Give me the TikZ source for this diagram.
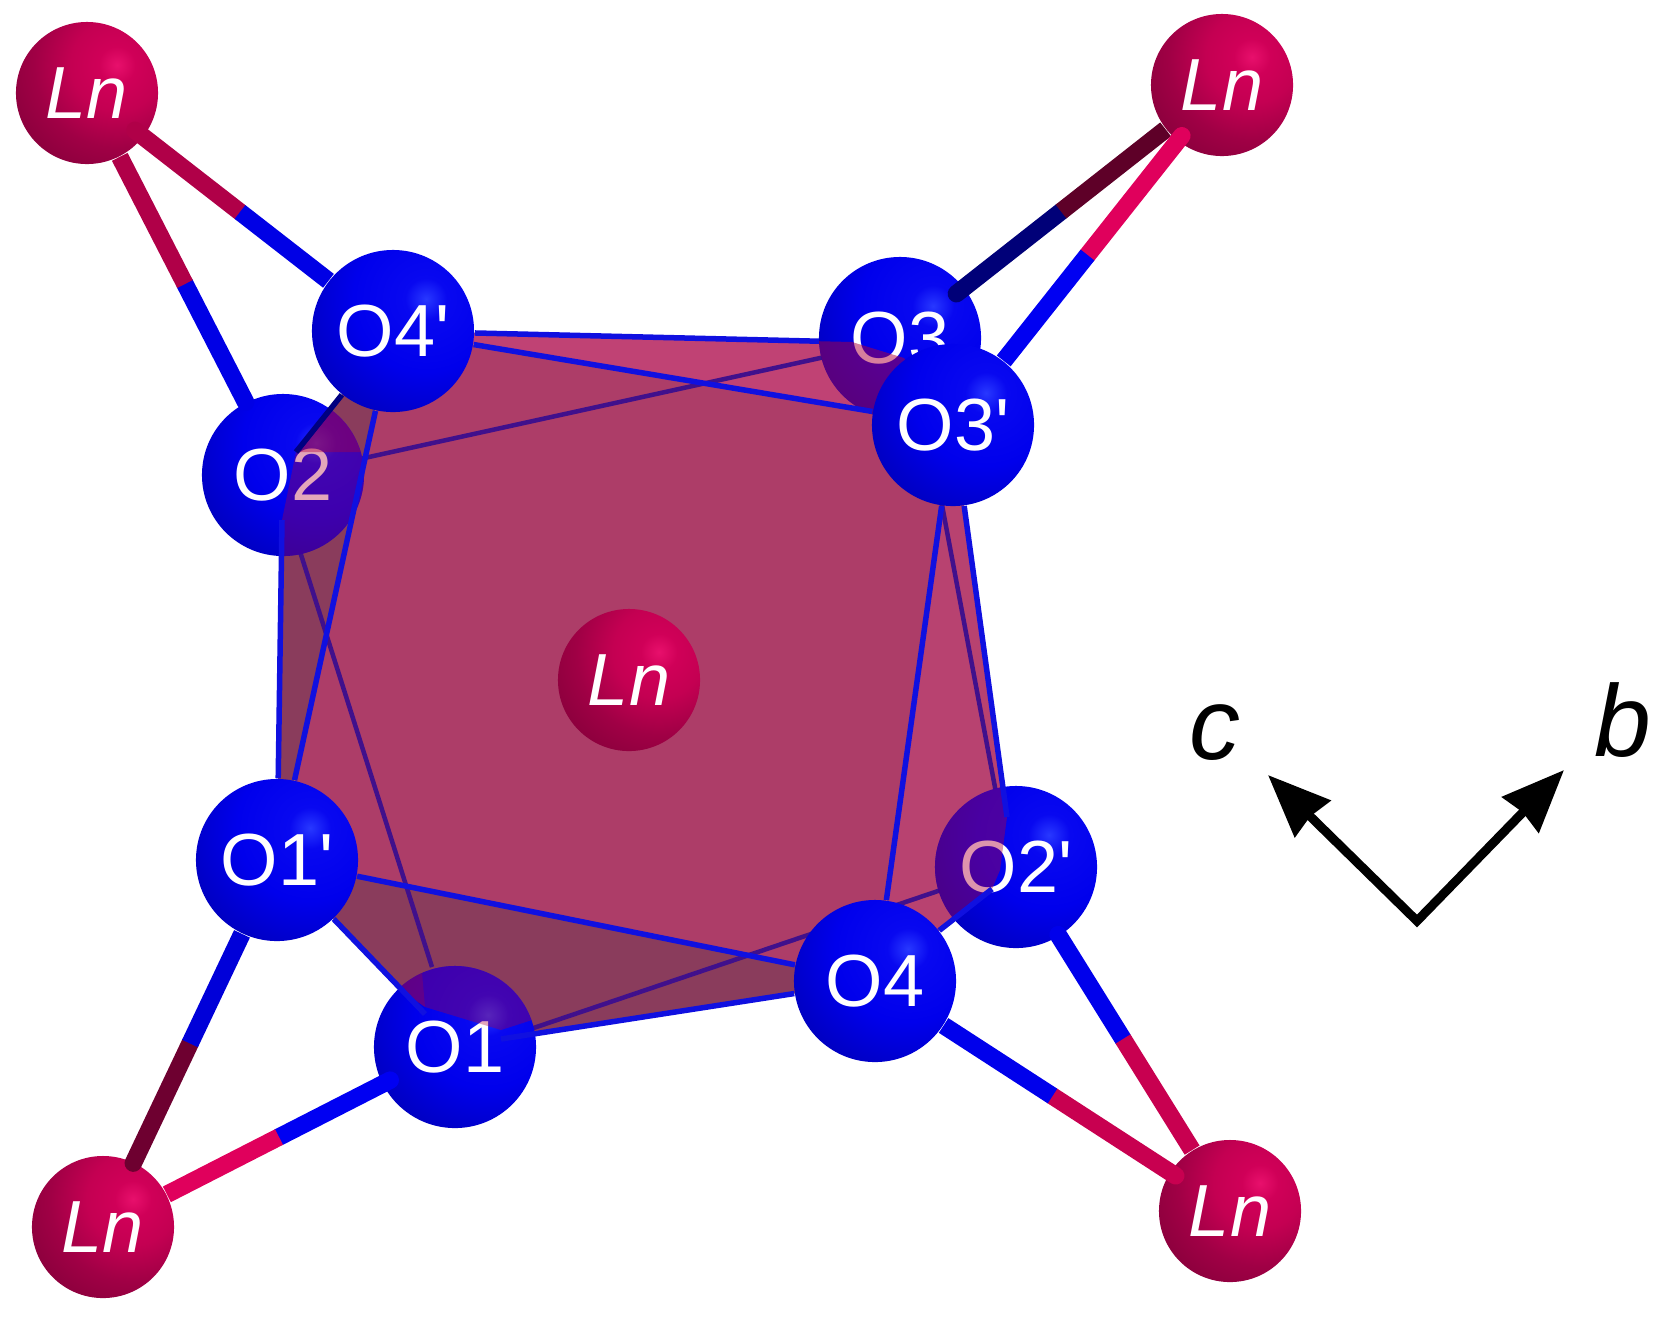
\documentclass[tikz,border=0pt]{standalone}
\usepackage{fontspec}
\setmainfont{Liberation Sans}[Ligatures=TeXOff]
\usetikzlibrary{calc,arrows.meta}
\pgfdeclarelayer{polyback}
\pgfdeclarelayer{backbonds}
\pgfdeclarelayer{lnballs}
\pgfdeclarelayer{frontbonds}
\pgfsetlayers{polyback,backbonds,lnballs,frontbonds,main}
\definecolor{lnA}{HTML}{E8106C}\definecolor{lnB}{HTML}{D00058}\definecolor{lnC}{HTML}{C40052}
\definecolor{lnD}{HTML}{A00045}\definecolor{lnE}{HTML}{6C0030}\definecolor{lnF}{HTML}{400018}
\definecolor{oxA}{HTML}{2838FF}\definecolor{oxB}{HTML}{0808F0}\definecolor{oxC}{HTML}{0000EC}
\definecolor{oxD}{HTML}{0000C4}\definecolor{oxE}{HTML}{00007C}\definecolor{oxF}{HTML}{00005C}
\definecolor{facemain}{HTML}{AD3D68}\definecolor{facetop}{HTML}{C04274}
\definecolor{faceright}{HTML}{B84270}\definecolor{facelow}{HTML}{8A3C5C}
\definecolor{edgeblue}{HTML}{1010E0}\definecolor{edgeback}{HTML}{40108C}
\definecolor{tintred}{HTML}{B0003C}
\pgfdeclareradialshading{lnshade}{\pgfpointorigin}{color(0bp)=(lnA); color(4bp)=(lnB); color(10bp)=(lnC); color(18bp)=(lnD); color(36bp)=(lnE); color(50bp)=(lnF)}
\pgfdeclareradialshading{oxshade}{\pgfpointorigin}{color(0bp)=(oxA); color(4bp)=(oxB); color(14bp)=(oxC); color(24bp)=(oxD); color(42bp)=(oxE); color(50bp)=(oxF)}
\tikzset{
  lnatom/.style={circle,inner sep=0pt,minimum size=1.42cm,text=white,font=\fontsize{21}{21}\selectfont\itshape,
    path picture={\shade[shading=lnshade] ([xshift=.3cm,yshift=.28cm]path picture bounding box.center) circle (1.15cm);}},
  oxatom/.style={circle,inner sep=0pt,minimum size=1.62cm,text=white,font=\fontsize{21}{21}\selectfont,
    path picture={\shade[shading=oxshade] ([xshift=.33cm,yshift=.32cm]path picture bounding box.center) circle (1.3cm);}},
  bond/.style={line width=.175cm},
  ballend/.style={line cap=round},
  faceedge/.style={edgeblue,line width=.055cm},
  backedge/.style={edgeback,line width=.045cm},
  tint/.style={tintred,opacity=#1},
  axislabel/.style={font=\fontsize{29}{29}\selectfont\itshape,inner sep=0pt},
}
\begin{document}
\begin{tikzpicture}[x=.01cm,y=-.01cm,>={Stealth[length=.62cm,width=.5cm,inset=.03cm]}]
  \useasboundingbox (0,0) rectangle (1658,1317);
  \begin{pgfonlayer}{lnballs}
    \node[lnatom] (ln1) at (87,93) {Ln};
    \node[lnatom] (ln2) at (1222,85) {Ln};
    \node[lnatom] (ln3) at (103,1227) {Ln};
    \node[lnatom] (ln4) at (1230,1211) {Ln};
  \end{pgfonlayer}
  \node[oxatom] (o4p) at (393,331) {O4'};
  \node[oxatom] (o3p) at (953,425) {O3'};
  \node[oxatom] (o1p) at (277,860) {O1'};
  \node[oxatom] (o4) at (875,981) {O4};
  % where the polyhedron meets the atoms behind it
  \coordinate (v3a) at (852,342);
  \coordinate (v3b) at (904,358);
  \coordinate (v2pa) at (1007,817);
  \coordinate (v2pb) at (1000,870);
  \coordinate (v2pc) at (992,889);
  \coordinate (v1a) at (501,1039);
  \coordinate (v1b) at (425,1014);
  \coordinate (v2a) at (282,520);
  \coordinate (v2b) at (296,452);
  \def\polyoutline{(o4p.center) -- (v3a) -- (v3b) -- (o3p.center) -- (v2pa) -- (v2pb) -- (v2pc) -- (o4.center) -- (v1a) -- (v1b) -- (o1p.center) -- (v2a) -- (v2b) -- cycle}
  \begin{pgfonlayer}{polyback}
    \fill[facetop] (o4p.center) -- (v3a) -- (v3b) -- (o3p.center) -- cycle;
    \fill[faceright] (o3p.center) -- (v2pa) -- (v2pb) -- (v2pc) -- (o4.center) -- cycle;
    \fill[facelow] (o4.center) -- (v1a) -- (v1b) -- (o1p.center) -- cycle;
    \fill[facelow] (o1p.center) -- (v2a) -- (v2b) -- (o4p.center) -- cycle;
    \fill[facemain] (o4p.center) -- (o3p.center) -- (o4.center) -- (o1p.center) -- cycle;
    \draw[backedge] (296,473) -- (852,351);
    \draw[backedge] (290,520) -- (432,967);
    \draw[backedge] (v1a) -- (v2pb);
    \draw[backedge] (912,345) -- (1003,830);
    \draw[faceedge] (o4p) -- (v3a);
    \node[oxatom] (o3) at (900,338) {O3};
    \node[oxatom] (o2) at (283,475) {O2};
    \node[oxatom] (o1) at (455,1047) {O1};
    \node[oxatom] (o2p) at (1016,867) {O2'};
    \begin{scope}
      \clip \polyoutline;
      \fill[tint=.5] (o3) circle[radius=81];
      \fill[tint=.35] (o2) circle[radius=81];
      \fill[tint=.42] (o2p) circle[radius=81];
    \end{scope}
    \begin{scope}
      \clip (398,988) -- (425,1007) -- (501,1030) -- (532,1020) -- (560,950) -- (420,940) -- cycle;
      \fill[tint=.35] (o1) circle[radius=81];
    \end{scope}
    \begin{scope}
      \clip (v2b) -- (344,398) -- (400,420) -- (374,452) -- cycle;
      \fill[tint=.4] (o2) circle[radius=81];
    \end{scope}
    \begin{scope}
      \clip (425,1007) -- (398,988) -- (390,950) -- (420,950) -- cycle;
      \fill[tint=.3] (o1) circle[radius=81];
    \end{scope}
  \end{pgfonlayer}
  \begin{pgfonlayer}{backbonds}
    \draw[bond,ballend,blue!90!black] (o2) -- ($(ln1)!.5!(o2)$);
    \draw[bond,color={rgb,255:red,176;green,0;blue,72}] (ln1) -- ($(ln1)!.5!(o2)$);
    \draw[bond,ballend,color={rgb,255:red,0;green,0;blue,120},shorten <=-.1cm] (o3) -- ($(ln2)!.5!(o3)$);
    \draw[bond,color={rgb,255:red,94;green,0;blue,40}] (ln2) -- ($(ln2)!.5!(o3)$);
    \draw[bond,ballend,blue!95!black,shorten <=-.09cm] (o1) -- ($(ln3)!.5!(o1)$);
    \draw[bond,color={rgb,255:red,224;green,0;blue,92}] (ln3) -- ($(ln3)!.5!(o1)$);
    \draw[bond,ballend,blue!92!black,shorten <=-.02cm] (o2p) -- ($(ln4)!.5!(o2p)$);
    \draw[bond,color={rgb,255:red,200;green,0;blue,80}] (ln4) -- ($(ln4)!.5!(o2p)$);
  \end{pgfonlayer}
  \begin{pgfonlayer}{frontbonds}
    \draw[bond,ballend,color={rgb,255:red,176;green,0;blue,72},shorten <=-.11cm] (ln1) -- ($(ln1)!.5!(o4p)$);
    \draw[bond,blue!90!black] (o4p) -- ($(ln1)!.5!(o4p)$);
    \draw[bond,ballend,color={rgb,255:red,224;green,0;blue,92},shorten <=-.07cm] (ln2) -- ($(ln2)!.5!(o3p)$);
    \draw[bond,blue!95!black] (o3p) -- ($(ln2)!.5!(o3p)$);
    \draw[bond,ballend,color={rgb,255:red,110;green,0;blue,48},shorten <=-.01cm] (ln3) -- ($(ln3)!.5!(o1p)$);
    \draw[bond,blue!85!black] (o1p) -- ($(ln3)!.5!(o1p)$);
    \draw[bond,ballend,color={rgb,255:red,200;green,0;blue,80},shorten <=-.07cm] (ln4) -- ($(ln4)!.5!(o4)$);
    \draw[bond,blue!92!black] (o4) -- ($(ln4)!.5!(o4)$);
    % edges of the polyhedron
    \draw[faceedge] (o4p) -- (o3p);
    \draw[faceedge] (o3p) -- (o4);
    \draw[faceedge] (o4) -- (o1p);
    \draw[faceedge] (o1p) -- (o4p);
    \draw[faceedge] (o3p) -- (v2pa);
    \draw[faceedge] (o4) -- (v2pc);
    \draw[faceedge] (o4) -- (v1a);
    \draw[faceedge] (o1p) -- (v1b);
    \draw[faceedge] (o1p) -- (v2a);
    \draw[faceedge,blue!50!black] (o4p) -- (v2b);
  \end{pgfonlayer}
  \node[lnatom] (ln0) at (629,680) {Ln};
  % axes
  \coordinate (orig) at (1417,921);
  \coordinate (ctip) at (1268,775);
  \coordinate (btip) at (1564,770);
  \draw[<->,line width=.09cm] (ctip) -- (orig) -- (btip);
  \node[axislabel] (clabel) at (1215,733) {c};
  \node[axislabel] (blabel) at (1623,720) {b};
\end{tikzpicture}
\end{document}
